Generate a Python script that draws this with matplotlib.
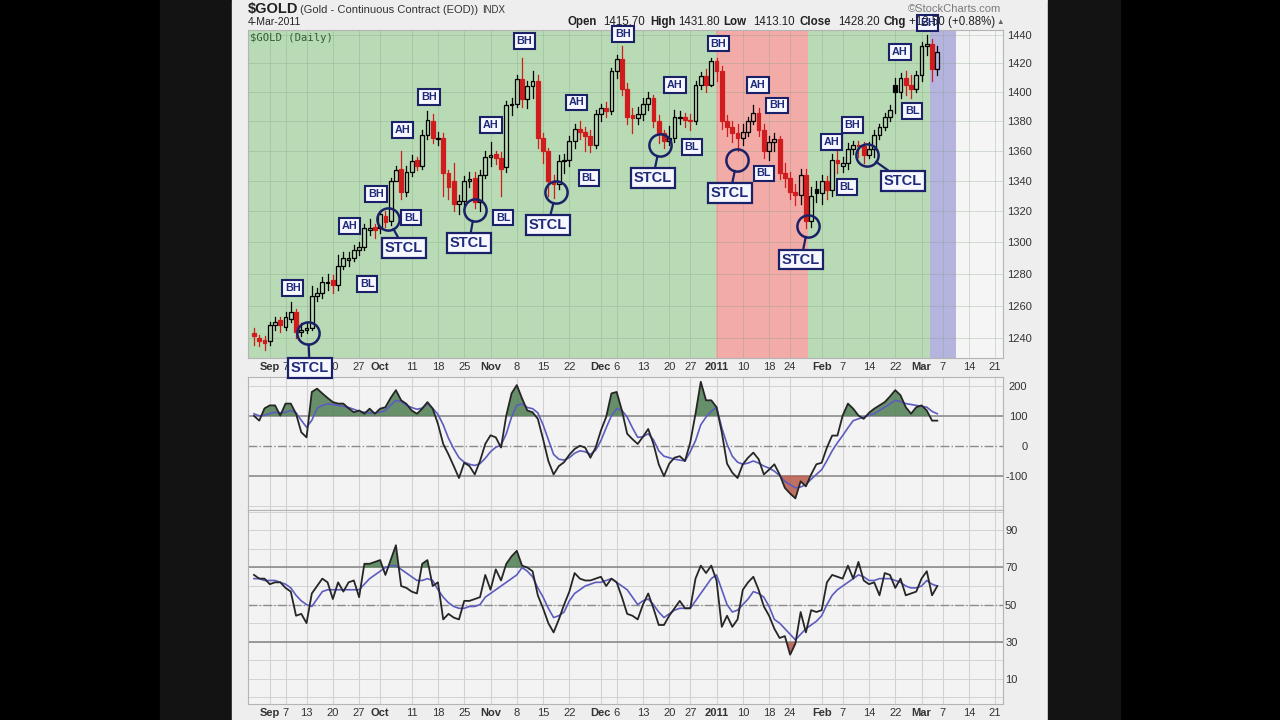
import numpy as np
import matplotlib.pyplot as plt
from matplotlib.patches import Rectangle
from matplotlib.ticker import NullLocator, FixedLocator

plt.rcParams['font.family'] = ['Liberation Sans', 'DejaVu Sans']
plt.rcParams['axes.unicode_minus'] = False

# $GOLD daily bars, 27-Aug-2010 .. 4-Mar-2011 (x = trading day number)
opens = [1243, 1240, 1239, 1238, 1248, 1251, 1247, 1252, 1256, 1244,
         1245, 1246, 1266, 1268, 1274, 1276, 1273, 1285, 1289, 1290,
         1295, 1297, 1308, 1310, 1309, 1317, 1314, 1340, 1348, 1333,
         1346, 1354, 1350, 1371, 1380, 1368, 1369, 1345, 1340, 1325,
         1327, 1340, 1342, 1326, 1344, 1356, 1358, 1355, 1349, 1391,
         1392, 1409, 1395, 1404, 1408, 1369, 1360, 1340, 1338, 1353,
         1354, 1367, 1375, 1373, 1370, 1364, 1385, 1389, 1387, 1415,
         1423, 1402, 1384, 1382, 1385, 1392, 1396, 1380, 1372, 1367,
         1369, 1382, 1383, 1381, 1380, 1405, 1411, 1405, 1422, 1415,
         1380, 1376, 1372, 1369, 1373, 1380, 1386, 1374, 1360, 1366,
         1368, 1345, 1342, 1333, 1331, 1344, 1314, 1335, 1332, 1340,
         1334, 1354, 1350, 1352, 1361, 1364, 1363, 1357, 1361, 1371,
         1376, 1383, 1405, 1400, 1410, 1405, 1402, 1412, 1432, 1434,
         1416]
highs = [1246, 1242, 1241, 1250, 1253, 1253, 1256, 1262, 1258, 1249,
         1250, 1272, 1271, 1278, 1280, 1279, 1292, 1294, 1294, 1298,
         1300, 1312, 1315, 1312, 1320, 1320, 1342, 1350, 1360, 1350,
         1357, 1356, 1374, 1387, 1385, 1373, 1372, 1347, 1352, 1331,
         1343, 1346, 1346, 1347, 1360, 1366, 1360, 1359, 1394, 1396,
         1412, 1424, 1408, 1415, 1412, 1372, 1362, 1344, 1357, 1358,
         1370, 1378, 1380, 1376, 1374, 1388, 1392, 1393, 1417, 1426,
         1432, 1406, 1389, 1390, 1396, 1400, 1398, 1384, 1374, 1377,
         1388, 1387, 1386, 1385, 1408, 1414, 1416, 1424, 1424, 1418,
         1384, 1380, 1378, 1378, 1383, 1391, 1389, 1378, 1370, 1372,
         1370, 1352, 1346, 1338, 1348, 1348, 1336, 1340, 1344, 1343,
         1358, 1360, 1356, 1365, 1367, 1367, 1366, 1366, 1374, 1378,
         1386, 1391, 1410, 1413, 1415, 1412, 1415, 1435, 1440, 1437,
         1432]
lows = [1236, 1235, 1233, 1236, 1245, 1244, 1245, 1250, 1240, 1241,
        1243, 1245, 1263, 1265, 1270, 1268, 1270, 1283, 1285, 1288,
        1292, 1295, 1305, 1303, 1306, 1310, 1311, 1340, 1328, 1330,
        1343, 1347, 1348, 1368, 1365, 1364, 1330, 1328, 1320, 1318,
        1324, 1336, 1322, 1320, 1342, 1350, 1351, 1330, 1346, 1384,
        1390, 1390, 1389, 1396, 1362, 1352, 1330, 1329, 1335, 1345,
        1350, 1362, 1368, 1360, 1359, 1362, 1380, 1383, 1385, 1410,
        1398, 1378, 1372, 1378, 1381, 1388, 1376, 1365, 1362, 1364,
        1366, 1378, 1376, 1374, 1378, 1402, 1400, 1404, 1408, 1375,
        1370, 1366, 1360, 1364, 1370, 1378, 1370, 1355, 1354, 1360,
        1341, 1336, 1328, 1324, 1325, 1309, 1310, 1326, 1325, 1328,
        1330, 1345, 1346, 1348, 1358, 1356, 1352, 1355, 1356, 1368,
        1374, 1380, 1386, 1396, 1398, 1396, 1400, 1408, 1426, 1408,
        1412]
closes = [1241, 1238, 1237, 1248, 1250, 1248, 1253, 1256, 1244, 1245,
          1246, 1266, 1268, 1275, 1275, 1273, 1285, 1290, 1290, 1295,
          1297, 1309, 1309, 1308, 1318, 1313, 1340, 1347, 1333, 1346,
          1353, 1350, 1371, 1381, 1369, 1369, 1345, 1336, 1325, 1327,
          1340, 1341, 1326, 1344, 1356, 1357, 1355, 1348, 1391, 1392,
          1409, 1395, 1404, 1408, 1369, 1360, 1340, 1338, 1353, 1354,
          1367, 1375, 1373, 1370, 1364, 1385, 1389, 1387, 1415, 1423,
          1402, 1383, 1382, 1385, 1392, 1396, 1380, 1372, 1367, 1369,
          1383, 1383, 1381, 1380, 1405, 1411, 1405, 1422, 1415, 1380,
          1376, 1372, 1369, 1373, 1380, 1386, 1374, 1360, 1366, 1368,
          1345, 1342, 1333, 1331, 1344, 1314, 1330, 1332, 1340, 1334,
          1354, 1352, 1352, 1361, 1364, 1363, 1357, 1361, 1371, 1376,
          1383, 1388, 1400, 1410, 1405, 1402, 1412, 1432, 1434, 1416,
          1428]

# CCI and its average
cci = [100, 84, 125, 135, 135, 101, 141, 141, 107, 45,
       28, 180, 191, 175, 160, 146, 141, 141, 125, 112,
       118, 107, 124, 107, 124, 129, 160, 186, 152, 140,
       118, 107, 124, 146, 124, 73, 6, -29, -68, -108,
       -57, -68, -96, -51, 6, 35, 28, -6, 101, 175,
       203, 158, 118, 112, 90, 22, -51, -96, -68, -55,
       -30, -11, 0, -6, -40, -6, 51, 96, 175, 180,
       118, 40, 22, 6, 30, 56, 6, -62, -102, -60,
       -40, -35, -51, 11, 107, 214, 152, 152, 129, 45,
       -60, -90, -108, -62, -40, -23, -45, -96, -80, -62,
       -96, -141, -160, -176, -119, -136, -96, -62, -57, -6,
       34, 34, 101, 141, 124, 101, 90, 110, 124, 135,
       146, 165, 186, 169, 129, 107, 129, 135, 118, 84,
       84]
cci_avg = [107, 100, 102, 108, 112, 110, 112, 118, 110, 85,
           62, 85, 125, 135, 140, 138, 135, 132, 128, 122,
           115, 112, 110, 110, 112, 118, 135, 152, 148, 135,
           128, 122, 126, 141, 125, 105, 70, 25, -10, -40,
           -55, -62, -66, -60, -42, -20, -5, 2, 40, 96,
           135, 140, 128, 124, 110, 70, 20, -29, -45, -48,
           -40, -25, -17, -20, -29, -15, 17, 60, 100, 124,
           118, 96, 60, 28, 30, 40, 20, -17, -35, -40,
           -45, -48, -51, -20, 17, 70, 96, 115, 129, 60,
           5, -35, -55, -62, -58, -51, -58, -68, -75, -85,
           -100, -119, -130, -141, -138, -130, -112, -96, -80, -50,
           -17, 10, 34, 60, 84, 90, 96, 102, 107, 118,
           129, 140, 152, 148, 141, 138, 135, 132, 129, 115,
           107]

# RSI and its average
rsi = [66, 64, 64, 61, 62, 62, 59, 57, 44, 45,
       40, 56, 60, 64, 62, 53, 62, 57, 62, 63,
       54, 72, 72, 73, 74, 66, 74, 82, 60, 59,
       57, 56, 72, 74, 60, 62, 42, 45, 43, 42,
       52, 52, 53, 54, 66, 58, 69, 63, 72, 76,
       79, 71, 70, 68, 55, 48, 40, 35, 42, 50,
       57, 67, 64, 63, 63, 64, 65, 60, 64, 62,
       54, 45, 44, 42, 50, 56, 48, 39, 39, 44,
       48, 52, 48, 48, 64, 71, 67, 71, 63, 38,
       44, 38, 42, 58, 62, 65, 58, 49, 44, 37,
       32, 33, 23, 29, 46, 35, 47, 46, 47, 62,
       66, 65, 64, 71, 64, 73, 63, 61, 62, 55,
       67, 66, 59, 64, 55, 56, 57, 64, 68, 55,
       60]
rsi_avg = [64, 64, 63, 63, 63, 62, 61, 59, 55, 52,
           50, 49, 53, 57, 58, 58, 58, 58, 58, 58,
           58, 61, 64, 66, 68, 70, 71, 71, 69, 67,
           65, 63, 63, 64, 63, 58, 54, 51, 49, 48,
           48, 49, 49, 50, 54, 56, 58, 60, 62, 64,
           66, 70, 68, 65, 59, 54, 48, 43, 44, 46,
           52, 56, 58, 60, 61, 62, 62, 63, 64, 62,
           60, 58, 54, 50, 52, 53, 50, 46, 43, 45,
           47, 48, 48, 48, 52, 56, 60, 64, 66, 58,
           50, 46, 47, 50, 53, 57, 56, 54, 49, 42,
           40, 37, 34, 31, 34, 37, 39, 41, 44, 50,
           55, 58, 60, 62, 64, 66, 65, 63, 63, 64,
           64, 64, 63, 62, 60, 59, 59, 60, 63, 61,
           60]

tick_days = [3, 6, 10, 15, 20, 24, 30, 35, 40, 45, 50, 55, 60, 66, 69, 74, 79, 83,
             88, 93, 98, 102, 108, 112, 117, 122, 127, 131, 136, 141]
tick_labels = ['Sep', '7', '13', '20', '27', 'Oct', '11', '18', '25', 'Nov', '8', '15', '22',
               'Dec', '6', '13', '20', '27', '2011', '10', '18', '24', 'Feb', '7', '14', '22',
               'Mar', '7', '14', '21']
month_names = ['Sep', 'Oct', 'Nov', 'Dec', '2011', 'Feb', 'Mar']
price_ticks = [1240, 1260, 1280, 1300, 1320, 1340, 1360, 1380, 1400, 1420, 1440]

# trend phases drawn behind the price (day boundaries)
phase_edges = [-1.2, 87.9, 105.4, 128.6, 133.6]
phase_names = ['up', 'down', 'up', 'now']

# hand-drawn marks on the chart
mark_labels = ['BH', 'AH', 'BL', 'BH', 'BL', 'AH', 'BH', 'AH', 'BL', 'BH', 'AH', 'BL', 'BH',
               'AH', 'BL', 'BH', 'AH', 'BH', 'BL', 'AH', 'BH', 'BL', 'AH', 'BL', 'BH']
mark_days = [7.4, 18.1, 21.5, 23.2, 29.9, 28.3, 33.3, 45.1, 47.4, 51.4, 61.3, 63.7, 70.2,
             80.1, 83.3, 88.3, 95.9, 99.5, 97.0, 109.8, 113.8, 112.8, 122.9, 125.2, 128.2]
mark_prices = [1271, 1310.6, 1273.6, 1331.5, 1316, 1374, 1396.7, 1377.5, 1316, 1435.7, 1393,
               1342, 1440.7, 1405, 1362.6, 1434, 1405, 1391, 1345, 1366, 1377.5, 1336, 1428,
               1387, 1448.5]
stcl_days = [10.3, 25.5, 42.0, 57.5, 77.2, 91.9, 105.4, 116.6]
stcl_prices = [1243, 1315, 1321, 1332.6, 1364, 1354, 1310.6, 1357]
stcl_text_days = [10.6, 28.5, 40.9, 55.9, 75.9, 90.6, 104.1, 123.5]
stcl_text_prices = [1222, 1296.5, 1299.6, 1311, 1342, 1332, 1289, 1340]

W, H = 1280, 720
NAVY = '#1b2168'
RED = '#d01c1c'
GRID = '#d2d2d2'
LEVEL = '#8c8c8c'
BLUE = '#5c5cc0'
DARK = '#262626'
phase_colors = {'up': '#b8dab4', 'down': '#f3aba7', 'now': '#b4b4de'}


def rect(px0, py0, px1, py1):
    return [px0 / W, 1 - py1 / H, (px1 - px0) / W, (py1 - py0) / H]


def fig_text(px, py, s, **kw):
    fig.text(px / W, 1 - py / H, s, va='center', **kw)


fig = plt.figure(figsize=(12.8, 7.2), dpi=100, facecolor='black')
for x0, x1, col in [(160, 232, '#131313'), (232, 1048, '#eeeeee'), (1048, 1120, '#131313')]:
    fig.patches.append(Rectangle((x0 / W, 0), (x1 - x0) / W, 1, transform=fig.transFigure,
                                 color=col, zorder=-5))

days = np.arange(len(closes))
xlim = (-1.14, 142.5)

ax_cci = fig.add_axes(rect(248, 377, 1003, 510))
ax_rsi = fig.add_axes(rect(248, 510, 1003, 704))
ax = fig.add_axes(rect(248, 30, 1003, 358))
ax.set_zorder(3)

# ---- price panel
ax.set_facecolor('#f5f5f5')
ax.set_yscale('log')
ax.set_ylim(1227.9, 1443.6)
ax.set_xlim(*xlim)
for k, name in enumerate(phase_names):
    ax.axvspan(phase_edges[k], phase_edges[k + 1], color=phase_colors[name], lw=0, zorder=0)
ax.yaxis.set_major_locator(FixedLocator(price_ticks))
ax.yaxis.set_minor_locator(NullLocator())
ax.set_yticklabels([str(p) for p in price_ticks])
ax.yaxis.tick_right()
ax.grid(True, color='#7f9f7f', alpha=0.35, lw=0.6, zorder=1)
ax.set_axisbelow(True)

for i in days:
    o, h, l, c = opens[i], highs[i], lows[i], closes[i]
    prev = closes[i - 1] if i > 0 else o
    col = RED if c < prev else 'black'
    lo, hi = min(o, c), max(o, c)
    ax.plot([i, i], [hi, h], color=col, lw=0.9, zorder=2)
    ax.plot([i, i], [l, lo], color=col, lw=0.9, zorder=2)
    filled = c < o
    ax.add_patch(Rectangle((i - 0.36, lo), 0.72, max(hi - lo, 0.6),
                           facecolor=col if filled else 'none', edgecolor=col, lw=0.9, zorder=2))

ax.text(0.003, 0.99, '$GOLD (Daily)', transform=ax.transAxes, va='top', ha='left',
        fontsize=7.6, color='#2f5f2f', family='DejaVu Sans Mono')

box_small = dict(boxstyle='square,pad=0.25', fc='#f6f7ff', ec=NAVY, lw=1.5)
for lab, d, p in zip(mark_labels, mark_days, mark_prices):
    ax.text(d, p, lab, ha='center', va='center', fontsize=7.8, fontweight='bold',
            color='#1f2a7a', bbox=box_small, zorder=6, clip_on=False)

ax.plot(stcl_days, stcl_prices, 'o', ms=16, mfc='none', mec=NAVY, mew=1.8, zorder=5)
for d, p, td, tp in zip(stcl_days, stcl_prices, stcl_text_days, stcl_text_prices):
    ax.annotate('STCL', xy=(d, p), xytext=(td, tp), ha='center', va='center',
                fontsize=10.5, fontweight='bold', color='#1f2a7a',
                bbox=dict(boxstyle='square,pad=0.2', fc='#f6f7ff', ec=NAVY, lw=1.6),
                arrowprops=dict(arrowstyle='-', color=NAVY, lw=1.6, shrinkA=0, shrinkB=8),
                annotation_clip=False, zorder=7)

# ---- CCI panel
ax_cci.set_facecolor('#f3f3f3')
ax_cci.set_xlim(*xlim)
ax_cci.set_ylim(-215, 230)
cci_a = np.array(cci, dtype=float)
for lvl in (200, -200):
    ax_cci.axhline(lvl, color=GRID, lw=0.7, zorder=0)
ax_cci.fill_between(days, cci_a, 100, where=cci_a > 100, interpolate=True,
                    color='#4f7f52', alpha=0.85, lw=0, zorder=2)
ax_cci.fill_between(days, cci_a, -100, where=cci_a < -100, interpolate=True,
                    color='#b85a48', alpha=0.85, lw=0, zorder=2)
for lvl in (100, -100):
    ax_cci.axhline(lvl, color=LEVEL, lw=1.2, zorder=1)
ax_cci.axhline(0, color=LEVEL, lw=1.0, ls='-.', zorder=1)
ax_cci.plot(days, cci_avg, color=BLUE, lw=1.2, zorder=3)
ax_cci.plot(days, cci, color=DARK, lw=1.3, zorder=4)
ax_cci.yaxis.set_major_locator(FixedLocator([200, 100, 0, -100]))
ax_cci.yaxis.tick_right()
ax_cci.tick_params(axis='y', length=0, pad=17.5, labelsize=8, labelcolor='#333333')
for t in ax_cci.get_yticklabels():
    t.set_ha('right')

# ---- RSI panel
ax_rsi.set_facecolor('#f3f3f3')
ax_rsi.set_xlim(*xlim)
ax_rsi.set_ylim(-3.6, 101)
rsi_a = np.array(rsi, dtype=float)
for lvl in range(0, 101, 10):
    ax_rsi.axhline(lvl, color=GRID, lw=0.7, zorder=0)
ax_rsi.fill_between(days, rsi_a, 70, where=rsi_a > 70, interpolate=True,
                    color='#4f7f52', alpha=0.85, lw=0, zorder=2)
ax_rsi.fill_between(days, rsi_a, 30, where=rsi_a < 30, interpolate=True,
                    color='#b85a48', alpha=0.85, lw=0, zorder=2)
for lvl in (70, 30):
    ax_rsi.axhline(lvl, color=LEVEL, lw=1.2, zorder=1)
ax_rsi.axhline(50, color=LEVEL, lw=1.0, ls='-.', zorder=1)
ax_rsi.plot(days, rsi_avg, color=BLUE, lw=1.2, zorder=3)
ax_rsi.plot(days, rsi, color=DARK, lw=1.3, zorder=4)
ax_rsi.yaxis.set_major_locator(FixedLocator([90, 70, 50, 30, 10]))
ax_rsi.yaxis.tick_right()
ax_rsi.tick_params(axis='y', length=0, pad=1.5, labelsize=8, labelcolor='#333333')

# ---- shared x styling
for a in (ax, ax_cci, ax_rsi):
    a.set_xticks(tick_days)
    a.xaxis.grid(True, color=GRID, lw=0.8)
    a.set_axisbelow(True)
    for s in a.spines.values():
        s.set_color('#b4b4b4')
        s.set_linewidth(0.8)
    a.tick_params(axis='x', length=0, pad=3, labelsize=8, labelcolor='#333333')
ax.tick_params(axis='y', length=0, pad=3, labelsize=8, labelcolor='#333333')
ax.xaxis.grid(True, color='#7f9f7f', alpha=0.35, lw=0.6)
ax_cci.set_xticklabels([])
for a in (ax, ax_rsi):
    a.set_xticklabels(tick_labels)
    for t in a.get_xticklabels():
        if t.get_text() in month_names:
            t.set_fontweight('bold')

# ---- header
fig_text(248, 9, '$GOLD', fontsize=10.5, fontweight='bold', color='#222222')
fig_text(300, 10, '(Gold - Continuous Contract (EOD))', fontsize=8, color='#333333')
fig_text(482, 10, 'INDX', fontsize=7, color='#333333')
fig_text(248, 22, '4-Mar-2011', fontsize=7.5, color='#222222')
fig_text(908, 9, '\u00a9StockCharts.com', fontsize=8, color='#7a7a7a')
quote = [(568, 'Open', 'bold'), (603, '1415.70', 'normal'), (650, 'High', 'bold'),
         (678, '1431.80', 'normal'), (723, 'Low', 'bold'), (753, '1413.10', 'normal'),
         (800, 'Close', 'bold'), (838, '1428.20', 'normal'), (883, 'Chg', 'bold'),
         (909, '+12.50 (+0.88%)', 'normal')]
for px, s, w in quote:
    fig_text(px, 22, s, fontsize=8.3, fontweight=w, color='#222222')
fig_text(996, 22, '\u25b2', fontsize=5.5, color='#666666')

fig.savefig('out.png', dpi=100, facecolor=fig.get_facecolor())
